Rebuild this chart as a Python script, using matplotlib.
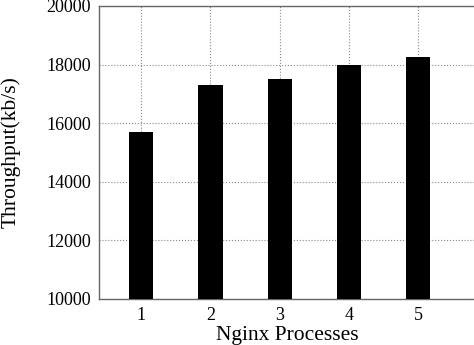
import matplotlib
matplotlib.use("Agg")
from matplotlib import pyplot as plt

processes = [1, 2, 3, 4, 5]
throughput = [15700, 17300, 17500, 18000, 18250]
y_ticks = [10000, 12000, 14000, 16000, 18000, 20000]

plt.rcParams['font.family'] = ['Liberation Serif', 'DejaVu Serif']

fig = plt.figure(figsize=(4.74, 3.45), dpi=100)
ax = fig.add_axes([99 / 474, 46 / 345, 376 / 474, 293 / 345])

ax.bar(processes, throughput, width=0.35, color='black', zorder=3)
ax.set_xlim(0.39, 5.82)
ax.set_ylim(10000, 20000)
ax.set_xticks(processes)
ax.set_yticks(y_ticks)
ax.tick_params(axis='both', length=0, labelsize=13, pad=6)

ax.grid(True, color='#888888', linestyle=':', linewidth=0.8, zorder=0)
for side in ('top', 'bottom', 'left', 'right'):
    ax.spines[side].set_color('#666666')
    ax.spines[side].set_linewidth(1.0)

ax.set_xlabel('Nginx Processes', fontsize=15.5, labelpad=1)
ax.set_ylabel('Throughput(kb/s)', fontsize=15.5, labelpad=18)

fig.savefig('out.png', dpi=100)
